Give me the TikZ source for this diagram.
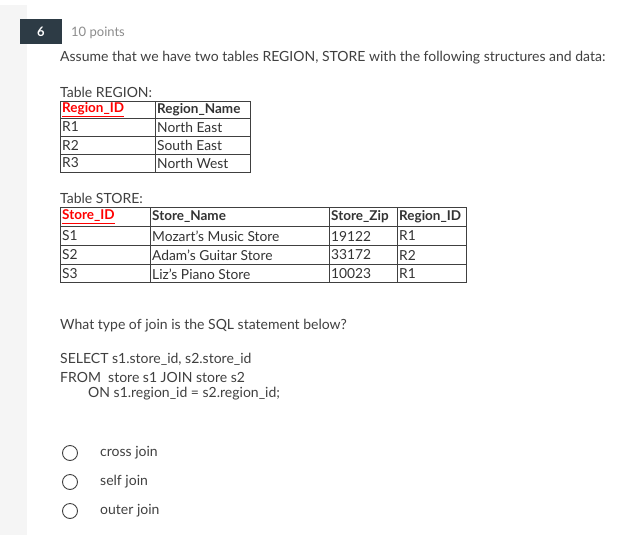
\documentclass[tikz,border=0pt]{standalone}
\usepackage{fontspec}
\setmainfont{Lato}
\begin{document}
\begin{tikzpicture}[x=1pt,y=-1pt,
  txt/.style={anchor=west,inner sep=0pt,text=black!75,font=\fontsize{14}{16}\selectfont},
  cell/.style={anchor=west,inner sep=0pt,text=black!80,font=\fontsize{13.8}{16}\selectfont},
  head/.style={cell,font=\bfseries\fontsize{13.5}{16}\selectfont},
  key/.style={head,text=red},
  grid/.style={draw=black!75,line width=0.9pt},
  radio/.style={circle,draw=black!75,line width=0.9pt,minimum size=15pt,inner sep=0pt}]
\useasboundingbox (0,0) rectangle (623,535);
\fill[black!4] (0,0) rectangle (623,535);
\fill[white] (27,0) rectangle (623,535);
\fill[white] (0,0) rectangle (623,5);
\node[fill={rgb,255:red,45;green,59;blue,69},minimum width=42pt,minimum height=25pt,inner sep=0pt,text=white,font=\bfseries\fontsize{13}{14}\selectfont] (num) at (41,32) {6};
\node[txt,text=black!45,font=\fontsize{13}{14}\selectfont] (pts) at (71,33) {10 points};
\node[txt] (q) at (60,58) {Assume that we have two tables REGION, STORE with the following structures and data:};
\node[txt] (tr) at (60,92) {Table REGION:};
% region table
\draw[grid] (60,101) rectangle (250,172);
\foreach \y in {118,136,154} \draw[grid] (60,\y) -- (250,\y);
\draw[grid] (155,101) -- (155,172);
\node[key] (r0a) at (62,110) {\underline{Region\_ID}};
\node[head] (r0b) at (157,110) {Region\_Name};
\node[cell] (r1a) at (62,127) {R1};
\node[cell] (r1b) at (157,127) {North East};
\node[cell] (r2a) at (62,145) {R2};
\node[cell] (r2b) at (157,145) {South East};
\node[cell] (r3a) at (62,163) {R3};
\node[cell] (r3b) at (157,163) {North West};
\node[txt] (ts) at (60,198) {Table STORE:};
% store table
\draw[grid] (60,207) rectangle (466,282);
\foreach \y in {226,245,264} \draw[grid] (60,\y) -- (466,\y);
\foreach \x in {150,329,397} \draw[grid] (\x,207) -- (\x,282);
\node[key] (s0a) at (62,217) {\underline{Store\_ID}};
\node[head] (s0b) at (152,217) {Store\_Name};
\node[head] (s0c) at (331,217) {Store\_Zip};
\node[head] (s0d) at (399,217) {Region\_ID};
\node[cell] (s1a) at (62,236) {S1};
\node[cell] (s1b) at (152,236) {Mozart's Music Store};
\node[cell] (s1c) at (331,236) {19122};
\node[cell] (s1d) at (399,236) {R1};
\node[cell] (s2a) at (62,255) {S2};
\node[cell] (s2b) at (152,255) {Adam's Guitar Store};
\node[cell] (s2c) at (331,255) {33172};
\node[cell] (s2d) at (399,255) {R2};
\node[cell] (s3a) at (62,274) {S3};
\node[cell] (s3b) at (152,274) {Liz's Piano Store};
\node[cell] (s3c) at (331,274) {10023};
\node[cell] (s3d) at (399,274) {R1};
\node[txt] (qq) at (60,326) {What type of join is the SQL statement below?};
\node[txt] (l1) at (60,359) {SELECT s1.store\_id, s2.store\_id};
\node[txt] (l2) at (60,377) {FROM\ \ store s1 JOIN store s2};
\node[txt] (l3) at (88,394) {ON s1.region\_id = s2.region\_id;};
\node[radio] (o1) at (70,453) {};
\node[radio] (o2) at (70,482) {};
\node[radio] (o3) at (70,511) {};
\node[txt] (a1) at (100,453) {cross join};
\node[txt] (a2) at (100,482) {self join};
\node[txt] (a3) at (100,511) {outer join};
\end{tikzpicture}
\end{document}
